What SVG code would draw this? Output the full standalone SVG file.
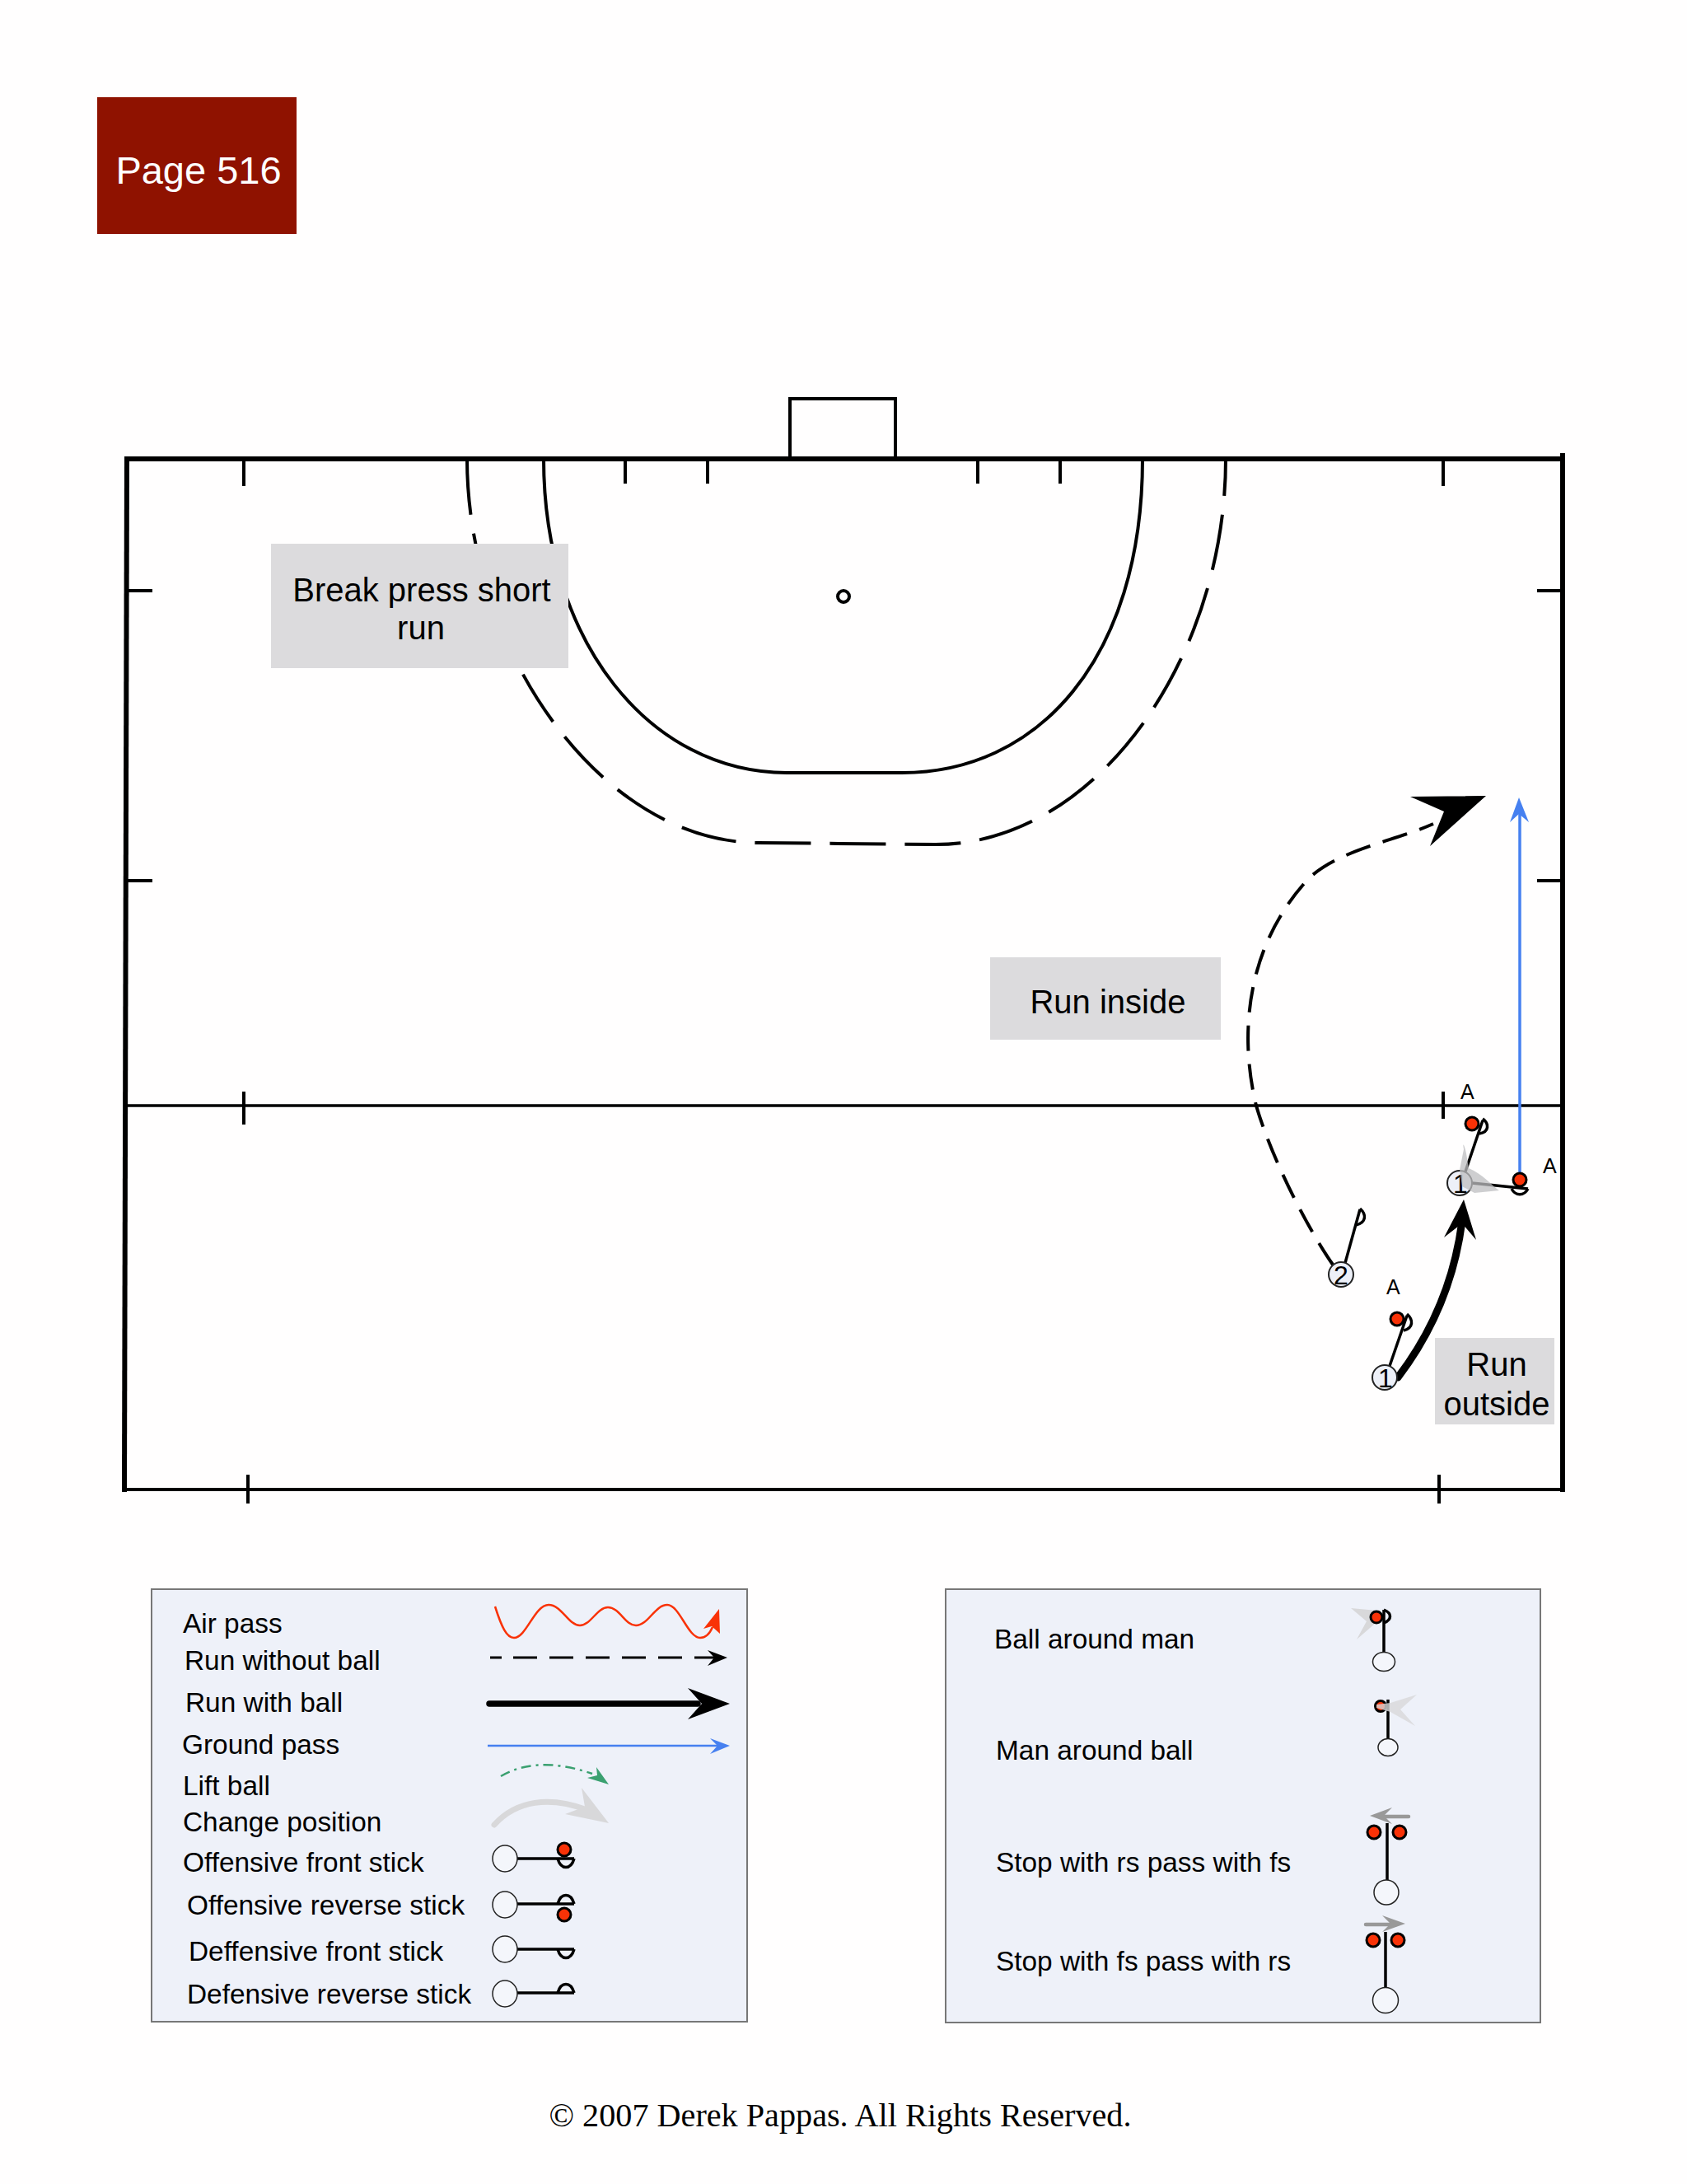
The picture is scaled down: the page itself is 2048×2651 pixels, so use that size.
<svg xmlns="http://www.w3.org/2000/svg" width="2048" height="2651" viewBox="0 0 2048 2651">
<style>
text{font-family:"Liberation Sans",Arial,sans-serif;fill:#000}
.lg{font-size:33.4px}
.lb{font-size:40px;text-anchor:middle}
.a{font-size:25px}
.n{font-size:32px;text-anchor:middle}
.labelbox{fill:#dcdbdd}
.panel{fill:#eef1f9;stroke:#777;stroke-width:2}
.f{fill:none;stroke:#000}
.tick{stroke:#000;stroke-width:4;fill:none}
.pl{fill:#edf0f8;stroke:#222;stroke-width:2}
.pw{fill:#f4f6fb;stroke:#222;stroke-width:1.5}
.st{stroke:#000;stroke-width:3.5;fill:none}
.ball{fill:#f93207;stroke:#000;stroke-width:3}
.gr{fill:#d8d8da}
</style>
<rect width="2048" height="2651" fill="#fffefe"/>
<g id="page-badge"><rect x="118" y="118" width="242" height="166" fill="#8f1200"/><text x="241" y="223" text-anchor="middle" font-size="47" style="fill:#fff">Page 516</text></g>
<g id="field">
<path class="f" stroke-width="4" d="M959 557V484H1087V557"/>
<path class="f" stroke-width="6" d="M152 557H1897"/>
<path class="f" stroke-width="6" d="M154 554L151 1811"/>
<path class="f" stroke-width="6" d="M1897 550V1811"/>
<path class="f" stroke-width="4" d="M150 1808H1899"/>
<path class="f" stroke-width="3.5" d="M150 1342H1897"/>
<path class="tick" d="M296 557V590M759 557V587M859 557V587M1187 557V587M1287 557V587M1752 557V590M153 717H185M153 1069H185M1866 717H1897M1866 1069H1897M296 1325V1365M1752 1325V1358M301 1790V1825M1747 1790V1825"/>
<path class="f" stroke-width="4" d="M660 557C660 780 790 938 955 938L1091 938C1260 940 1387 800 1387 557"/>
<path class="f" stroke-width="4" stroke-dasharray="68 23" d="M567 557C567 790 730 1023 921 1023L1136 1025C1330 1025 1488 800 1488 557"/>
<circle class="f" stroke-width="4" cx="1024" cy="724" r="7"/>
</g>
<g id="label-break-press"><rect class="labelbox" x="329" y="660" width="361" height="151"/><text class="lb" x="512" y="730">Break press short</text><text class="lb" x="511" y="776">run</text></g>
<g id="label-run-inside"><rect class="labelbox" x="1202" y="1162" width="280" height="100"/><text class="lb" x="1345" y="1230">Run inside</text></g>
<g id="label-run-outside"><rect class="labelbox" x="1742" y="1624" width="145" height="105"/><text class="lb" x="1817" y="1670">Run</text><text class="lb" x="1817" y="1718">outside</text></g>
<g id="connectors">
<path class="f" stroke-width="4" stroke-dasharray="31 16" d="M1618 1535C1590 1495 1545 1410 1525 1342C1505 1260 1510 1150 1590 1065C1630 1030 1690 1022 1740 1000"/>
<path d="M1804 966L1712 967L1753 985L1736 1027Z"/>
<path d="M1845 1432V985" stroke="#4680f0" stroke-width="3.5" fill="none"/>
<path d="M1844 968L1833 998L1844 988L1856 998Z" fill="#4680f0"/>
<path class="f" stroke-width="9" stroke-linecap="round" d="M1697 1672C1735 1622 1765 1560 1775 1482"/>
<path d="M1777 1456L1753 1502L1775 1485L1792 1505Z"/>
</g>
<g id="player-1a"><line class="st" x1="1687" y1="1658" x2="1708" y2="1597"/><path class="st" d="M1708 1595C1716 1602 1716 1612 1704 1615"/><circle class="ball" cx="1696" cy="1601" r="8"/><circle class="pl" cx="1681" cy="1672" r="15"/><text class="n" x="1682" y="1684">1</text><text class="a" x="1683" y="1571">A</text></g>
<g id="player-2"><line class="st" x1="1633" y1="1533" x2="1651" y2="1468"/><path class="st" d="M1651 1467C1659 1474 1659 1484 1646 1487"/><circle class="pl" cx="1628" cy="1547" r="15"/><text class="n" x="1628" y="1559">2</text></g>
<g id="player-1b"><line class="st" x1="1779" y1="1422" x2="1800" y2="1360"/><path class="st" d="M1800 1358C1808 1364 1808 1374 1796 1376"/><line class="st" x1="1787" y1="1436" x2="1855" y2="1443"/><path class="st" d="M1835 1443C1840 1452 1850 1452 1855 1443"/><circle class="ball" cx="1787" cy="1364" r="8"/><circle class="ball" cx="1845" cy="1432" r="8"/><circle class="pl" cx="1772" cy="1436" r="15"/><text class="n" x="1773" y="1448">1</text><path d="M1777 1395C1775 1385 1778 1390 1780 1400L1783 1418C1800 1425 1812 1440 1820 1445L1790 1448L1775 1440L1772 1420Z" fill="#bdbdc0" opacity=".75"/><text class="a" x="1773" y="1334">A</text><text class="a" x="1873" y="1424">A</text></g>
<g id="legend-left">
<rect class="panel" x="184" y="1929" width="723" height="525"/>
<text class="lg" x="222" y="1982">Air pass</text><text class="lg" x="224" y="2027">Run without ball</text><text class="lg" x="225" y="2078">Run with ball</text><text class="lg" x="221" y="2129">Ground pass</text><text class="lg" x="222" y="2179">Lift ball</text><text class="lg" x="222" y="2223">Change position</text><text class="lg" x="222" y="2272">Offensive front stick</text><text class="lg" x="227" y="2324">Offensive reverse stick</text><text class="lg" x="229" y="2380">Deffensive front stick</text><text class="lg" x="227" y="2432">Defensive reverse stick</text>
<g transform="translate(-3 0)">
<path d="M604 1950C612 1975 618 1988 627 1988C642 1988 652 1948 669 1948C685 1948 693 1973 707 1973C720 1973 728 1951 741 1951C755 1951 762 1973 775 1973C790 1973 798 1948 813 1948C828 1948 838 1988 853 1988C860 1988 865 1982 868 1975" fill="none" stroke="#f93207" stroke-width="2.5"/>
<path d="M876 1953L857 1977L867 1974L877 1983Z" fill="#f93207"/>
<path d="M598 2012H870" fill="none" stroke="#000" stroke-width="3" stroke-dasharray="14 14 29 15 29 15 29 15 29 15 29 15 29 15"/><path d="M886 2012L862 2003L870 2012L862 2022Z"/>
<path d="M597 2068H850" fill="none" stroke="#000" stroke-width="7.5" stroke-linecap="round"/><path d="M838 2049L889 2068L838 2087L855 2068Z"/>
<path d="M595 2119H876" fill="none" stroke="#4680f0" stroke-width="2.5"/><path d="M865 2110L889 2119L865 2129L874 2119Z" fill="#4680f0"/>
<path d="M611 2156C635 2142 670 2135 722 2153" fill="none" stroke="#3aa070" stroke-width="2.5" stroke-dasharray="12 6 3 6"/><path d="M742 2166L727 2145L728 2155L716 2158Z" fill="#3aa070"/>
<path d="M603 2215C630 2185 670 2180 716 2197" fill="none" stroke="#d8d8da" stroke-width="7" stroke-linecap="round"/><path class="gr" d="M742 2213L709 2170L713 2193L689 2202Z"/>
<g><line class="st" x1="631" y1="2256" x2="700" y2="2256"/><path class="st" d="M680 2256C684 2270 696 2270 700 2256"/><ellipse class="pw" cx="616" cy="2256" rx="15" ry="16"/><circle class="ball" cx="688" cy="2245" r="8"/></g>
<g><line class="st" x1="631" y1="2311" x2="700" y2="2311"/><path class="st" d="M680 2311C684 2297 696 2297 700 2311"/><ellipse class="pw" cx="616" cy="2312" rx="15" ry="16"/><circle class="ball" cx="688" cy="2324" r="8"/></g>
<g><line class="st" x1="631" y1="2366" x2="700" y2="2366"/><path class="st" d="M680 2366C684 2380 696 2380 700 2366"/><ellipse class="pw" cx="616" cy="2366" rx="15" ry="16"/></g>
<g><line class="st" x1="631" y1="2419" x2="700" y2="2419"/><path class="st" d="M680 2419C684 2405 696 2405 700 2419"/><ellipse class="pw" cx="616" cy="2420" rx="15" ry="16"/></g>
</g>
</g>
<g id="legend-right">
<rect class="panel" x="1148" y="1929" width="722" height="526"/>
<text class="lg" x="1207" y="2001">Ball around man</text><text class="lg" x="1209" y="2136">Man around ball</text><text class="lg" x="1209" y="2272">Stop with rs pass with fs</text><text class="lg" x="1209" y="2392">Stop with fs pass with rs</text>
<path class="gr" d="M1640 1952L1672 1955L1670 1970L1647 1990L1659 1968Z"/>
<line class="st" x1="1680" y1="2005" x2="1680" y2="1954"/><path class="st" d="M1680 1954C1690 1958 1690 1966 1680 1970"/><circle class="ball" cx="1671" cy="1963" r="7"/><ellipse class="pw" cx="1680" cy="2017" rx="13.5" ry="11.5"/>
<line class="st" x1="1685" y1="2111" x2="1685" y2="2063"/><circle class="ball" cx="1676" cy="2071" r="6.5"/><ellipse class="pw" cx="1685" cy="2121" rx="12" ry="10.5"/>
<path d="M1720 2057L1688 2067L1671 2069V2073L1688 2078L1718 2095L1700 2075Z" fill="#d8d8da" opacity=".8"/>
<line class="st" x1="1684" y1="2282" x2="1684" y2="2213"/><circle class="ball" cx="1668" cy="2224" r="8"/><circle class="ball" cx="1699" cy="2224" r="8"/><circle class="pw" cx="1683" cy="2297" r="15"/>
<path d="M1710 2205H1675" stroke="#999" stroke-width="4.5" stroke-linecap="round" fill="none"/><path d="M1663 2204L1690 2194L1680 2204L1690 2214Z" fill="#999"/>
<line class="st" x1="1682" y1="2413" x2="1682" y2="2345"/><circle class="ball" cx="1667" cy="2355" r="8"/><circle class="ball" cx="1697" cy="2355" r="8"/><circle class="pw" cx="1682" cy="2428" r="15.5"/>
<path d="M1658 2336H1695" stroke="#999" stroke-width="4.5" stroke-linecap="round" fill="none"/><path d="M1706 2335L1678 2325L1688 2335L1678 2345Z" fill="#999"/>
</g>
<text id="footer" x="1020" y="2581" text-anchor="middle" font-size="40.2" style="font-family:'Liberation Serif','Times New Roman',serif">© 2007 Derek Pappas. All Rights Reserved.</text>
</svg>
